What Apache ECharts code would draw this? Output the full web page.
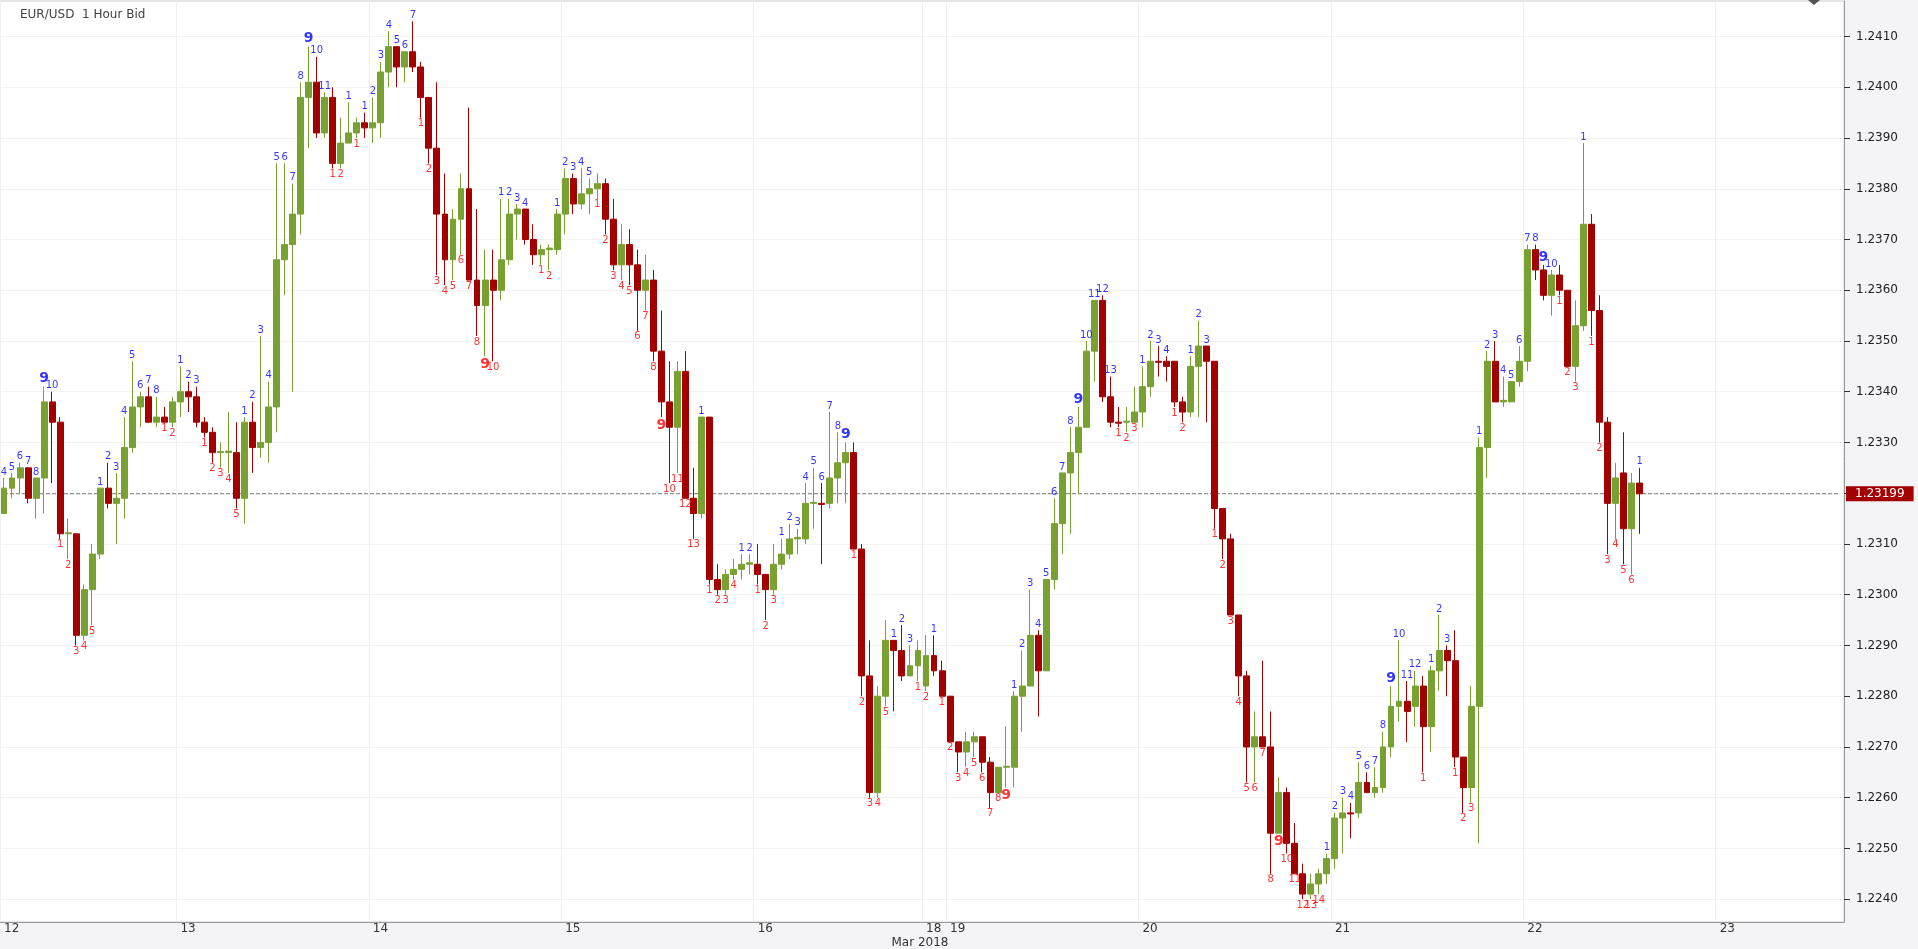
<!DOCTYPE html>
<html><head><meta charset="utf-8">
<script src="https://cdn.jsdelivr.net/npm/echarts@6/dist/echarts.min.js"></script>
<style>html,body{margin:0;padding:0;background:#fff}#c{width:1918px;height:949px}</style>
</head><body><div id="c"></div>
<script>
const opens=[1.2316,1.2321,1.2323,1.2325,1.2319,1.2323,1.2338,1.2334,1.2312,1.2312,1.2292,1.2301,1.2308,1.2321,1.2318,1.2319,1.2329,1.2337,1.2339,1.2334,1.2335,1.2334,1.2338,1.2340,1.2339,1.2334,1.2332,1.2328,1.2328,1.2328,1.2319,1.2334,1.2329,1.2330,1.2337,1.2366,1.2369,1.2375,1.2398,1.2401,1.2391,1.2398,1.2385,1.2389,1.2391,1.2393,1.2392,1.2393,1.2403,1.2408,1.2404,1.2407,1.2404,1.2398,1.2388,1.2375,1.2366,1.2374,1.2380,1.2362,1.2357,1.2362,1.2360,1.2366,1.2375,1.2376,1.2370,1.2367,1.2368,1.2368,1.2375,1.2382,1.2377,1.2379,1.2380,1.2381,1.2374,1.2365,1.2369,1.2365,1.2360,1.2362,1.2348,1.2338,1.2333,1.2344,1.2319,1.2316,1.2335,1.2303,1.2301,1.2304,1.2305,1.2306,1.2306,1.2304,1.2301,1.2306,1.2308,1.2311,1.2311,1.2318,1.2318,1.2318,1.2323,1.2326,1.2328,1.2309,1.2284,1.2261,1.2280,1.2291,1.2289,1.2284,1.2286,1.2282,1.2288,1.2285,1.2280,1.2271,1.2269,1.2271,1.2272,1.2267,1.2261,1.2266,1.2266,1.2280,1.2282,1.2292,1.2285,1.2303,1.2314,1.2324,1.2328,1.2333,1.2348,1.2358,1.2339,1.2334,1.2334,1.2334,1.2336,1.2341,1.2346,1.2346,1.2346,1.2338,1.2336,1.2345,1.2349,1.2346,1.2317,1.2311,1.2296,1.2284,1.2270,1.2272,1.2270,1.2253,1.2261,1.2251,1.2245,1.2241,1.2243,1.2245,1.2248,1.2256,1.2257,1.2257,1.2263,1.2261,1.2262,1.2270,1.2278,1.2279,1.2278,1.2282,1.2274,1.2285,1.2289,1.2287,1.2268,1.2262,1.2278,1.2329,1.2346,1.2338,1.2338,1.2342,1.2346,1.2368,1.2364,1.2359,1.2363,1.2360,1.2345,1.2353,1.2373,1.2356,1.2334,1.2318,1.2324,1.2313,1.2322];
const closes=[1.2321,1.2323,1.2325,1.2319,1.2323,1.2338,1.2334,1.2312,1.23122,1.2292,1.2301,1.2308,1.2321,1.2318,1.2319,1.2329,1.2337,1.2339,1.2334,1.2335,1.2334,1.2338,1.2340,1.2339,1.2334,1.2332,1.2328,1.23282,1.23283,1.2319,1.2334,1.2329,1.2330,1.2337,1.2366,1.2369,1.2375,1.2398,1.2401,1.2391,1.2398,1.2385,1.2389,1.2391,1.2393,1.2392,1.2393,1.2403,1.2408,1.2404,1.2407,1.2404,1.2398,1.2388,1.2375,1.2366,1.2374,1.2380,1.2362,1.2357,1.2362,1.2360,1.2366,1.2375,1.2376,1.2370,1.2367,1.2368,1.23683,1.2375,1.2382,1.2377,1.2379,1.2380,1.2381,1.2374,1.2365,1.2369,1.2365,1.2360,1.2362,1.2348,1.2338,1.2333,1.2344,1.2319,1.2316,1.2335,1.2303,1.2301,1.2304,1.2305,1.2306,1.23063,1.2304,1.2301,1.2306,1.2308,1.2311,1.23113,1.2318,1.23182,1.23178,1.2323,1.2326,1.2328,1.2309,1.2284,1.2261,1.2280,1.2291,1.2289,1.2284,1.2286,1.2289,1.2288,1.2285,1.2280,1.2271,1.2269,1.2271,1.2272,1.2267,1.2261,1.2266,1.22662,1.2280,1.2282,1.2292,1.2285,1.2303,1.2314,1.2324,1.2328,1.2333,1.2348,1.2358,1.2339,1.2334,1.23338,1.23342,1.2336,1.2341,1.2346,1.23458,1.2345,1.2338,1.2336,1.2345,1.2349,1.2346,1.2317,1.2311,1.2296,1.2284,1.2270,1.2272,1.2270,1.2253,1.2261,1.2251,1.2245,1.2241,1.2243,1.2245,1.2248,1.2256,1.2257,1.22568,1.2263,1.2261,1.2262,1.2270,1.2278,1.2279,1.2277,1.2282,1.2274,1.2285,1.2289,1.2287,1.2268,1.2262,1.2278,1.2329,1.2346,1.2338,1.23383,1.2342,1.2346,1.2368,1.2364,1.2359,1.2363,1.2360,1.2345,1.2353,1.2373,1.2356,1.2334,1.2318,1.2323,1.2313,1.2322,1.23199];
const lows=[1.2316,1.2319,1.2320,1.2318,1.2315,1.2316,1.2322,1.2311,1.2307,1.2290,1.2291,1.2294,1.2307,1.2317,1.2310,1.2315,1.2328,1.2333,1.2334,1.2333,1.2334,1.2333,1.2335,1.2336,1.2333,1.2331,1.2326,1.2325,1.2324,1.2317,1.2314,1.2324,1.2327,1.2326,1.2332,1.2359,1.2340,1.2371,1.2388,1.2390,1.2390,1.2384,1.2384,1.2389,1.2390,1.2390,1.2389,1.2390,1.2400,1.2400,1.2401,1.2403,1.2394,1.2385,1.2363,1.2361,1.2362,1.2367,1.2362,1.2351,1.2347,1.2346,1.2358,1.2365,1.2370,1.2369,1.2365,1.2365,1.2364,1.2367,1.2371,1.2375,1.2376,1.2375,1.2378,1.2371,1.2364,1.2362,1.2361,1.2352,1.2356,1.2346,1.2335,1.2322,1.2324,1.2319,1.2311,1.2315,1.2302,1.2300,1.2300,1.2303,1.2303,1.2304,1.2302,1.2295,1.2300,1.2305,1.2307,1.2308,1.2310,1.2313,1.2306,1.2317,1.2318,1.2318,1.2309,1.2280,1.2260,1.2260,1.2278,1.2277,1.2283,1.2284,1.2283,1.2281,1.2284,1.2280,1.2271,1.2265,1.2266,1.2268,1.2265,1.2258,1.2261,1.2262,1.2262,1.2273,1.2282,1.2276,1.2285,1.2301,1.2308,1.2312,1.2320,1.2333,1.2342,1.2338,1.2333,1.2333,1.2332,1.2334,1.2333,1.2339,1.2343,1.2342,1.2337,1.2334,1.2335,1.2335,1.2334,1.2313,1.2307,1.2296,1.2280,1.2263,1.2263,1.2270,1.2245,1.2253,1.2249,1.2245,1.2240,1.2240,1.2241,1.2243,1.2246,1.2249,1.2252,1.2256,1.2261,1.2260,1.2261,1.2268,1.2275,1.2271,1.2274,1.2265,1.2269,1.2281,1.2280,1.2266,1.2257,1.2259,1.2251,1.2323,1.2338,1.2337,1.2338,1.2341,1.2344,1.2362,1.2358,1.2355,1.2359,1.2345,1.2342,1.2352,1.2351,1.2330,1.2308,1.2311,1.2306,1.2304,1.2312];
const highs=[1.2323,1.2324,1.2326,1.2325,1.2323,1.2341,1.2340,1.2335,1.2315,1.2312,1.2302,1.2310,1.2321,1.2326,1.2324,1.2335,1.2346,1.2340,1.2341,1.2339,1.2337,1.2339,1.2345,1.2342,1.2341,1.2335,1.2333,1.2330,1.2336,1.2334,1.2335,1.2338,1.2351,1.2342,1.2385,1.2385,1.2381,1.2401,1.2408,1.2406,1.2399,1.2400,1.2394,1.2397,1.2394,1.2395,1.2398,1.2405,1.2411,1.2408,1.2407,1.2413,1.2405,1.2398,1.2401,1.2383,1.2376,1.2383,1.2396,1.2376,1.2368,1.2368,1.2378,1.2378,1.2377,1.2376,1.2373,1.2369,1.2369,1.2376,1.2384,1.2383,1.2384,1.2382,1.2383,1.2382,1.2378,1.2373,1.2372,1.2368,1.2367,1.2364,1.2356,1.2346,1.2346,1.2348,1.2325,1.2335,1.2335,1.2306,1.2305,1.2307,1.2308,1.2308,1.2310,1.2304,1.2310,1.2311,1.2314,1.2313,1.2322,1.2325,1.2322,1.2336,1.2332,1.2330,1.2330,1.2310,1.2291,1.2282,1.2295,1.2291,1.2294,1.2290,1.2291,1.2292,1.2292,1.2287,1.2280,1.2271,1.2273,1.2273,1.2272,1.2268,1.2266,1.2274,1.2281,1.2289,1.2301,1.2293,1.2303,1.2319,1.2324,1.2333,1.2337,1.2350,1.2358,1.2359,1.2343,1.2337,1.2337,1.2341,1.2345,1.2350,1.2349,1.2347,1.2346,1.2339,1.2347,1.2354,1.2349,1.2346,1.2317,1.2312,1.2296,1.2285,1.2277,1.2287,1.2277,1.2264,1.2262,1.2255,1.2247,1.2245,1.2246,1.2249,1.2257,1.2260,1.2259,1.2267,1.2265,1.2266,1.2273,1.2282,1.2291,1.2283,1.2285,1.2284,1.2286,1.2296,1.2290,1.2293,1.2268,1.2282,1.2331,1.2348,1.2350,1.2343,1.2342,1.2349,1.2369,1.2369,1.2365,1.2364,1.2365,1.2360,1.2358,1.2389,1.2375,1.2359,1.2335,1.2326,1.2332,1.2324,1.2325];
const upCounts=[[0,'4'],[1,'5'],[2,'6'],[3,'7'],[4,'8'],[5,'9'],[6,'10'],[12,'1'],[13,'2'],[14,'3'],[15,'4'],[16,'5'],[17,'6'],[18,'7'],[19,'8'],[22,'1'],[23,'2'],[24,'3'],[30,'1'],[31,'2'],[32,'3'],[33,'4'],[34,'5'],[35,'6'],[36,'7'],[37,'8'],[38,'9'],[39,'10'],[40,'11'],[43,'1'],[45,'1'],[46,'2'],[47,'3'],[48,'4'],[49,'5'],[50,'6'],[51,'7'],[62,'1'],[63,'2'],[64,'3'],[65,'4'],[69,'1'],[70,'2'],[71,'3'],[72,'4'],[73,'5'],[87,'1'],[92,'1'],[93,'2'],[97,'1'],[98,'2'],[99,'3'],[100,'4'],[101,'5'],[102,'6'],[103,'7'],[104,'8'],[105,'9'],[111,'1'],[112,'2'],[113,'3'],[116,'1'],[126,'1'],[127,'2'],[128,'3'],[129,'4'],[130,'5'],[131,'6'],[132,'7'],[133,'8'],[134,'9'],[135,'10'],[136,'11'],[137,'12'],[138,'13'],[142,'1'],[143,'2'],[144,'3'],[145,'4'],[148,'1'],[149,'2'],[150,'3'],[165,'1'],[166,'2'],[167,'3'],[168,'4'],[169,'5'],[170,'6'],[171,'7'],[172,'8'],[173,'9'],[174,'10'],[175,'11'],[176,'12'],[178,'1'],[179,'2'],[180,'3'],[184,'1'],[185,'2'],[186,'3'],[187,'4'],[188,'5'],[189,'6'],[190,'7'],[191,'8'],[192,'9'],[193,'10'],[197,'1'],[204,'1']];
const downCounts=[[7,'1'],[8,'2'],[9,'3'],[10,'4'],[11,'5'],[20,'1'],[21,'2'],[25,'1'],[26,'2'],[27,'3'],[28,'4'],[29,'5'],[41,'1'],[42,'2'],[44,'1'],[52,'1'],[53,'2'],[54,'3'],[55,'4'],[56,'5'],[57,'6'],[58,'7'],[59,'8'],[60,'9'],[61,'10'],[67,'1'],[68,'2'],[74,'1'],[75,'2'],[76,'3'],[77,'4'],[78,'5'],[79,'6'],[80,'7'],[81,'8'],[82,'9'],[83,'10'],[84,'11'],[85,'12'],[86,'13'],[88,'1'],[89,'2'],[90,'3'],[91,'4'],[94,'1'],[95,'2'],[96,'3'],[106,'1'],[107,'2'],[108,'3'],[109,'4'],[110,'5'],[114,'1'],[115,'2'],[117,'1'],[118,'2'],[119,'3'],[120,'4'],[121,'5'],[122,'6'],[123,'7'],[124,'8'],[125,'9'],[139,'1'],[140,'2'],[141,'3'],[146,'1'],[147,'2'],[151,'1'],[152,'2'],[153,'3'],[154,'4'],[155,'5'],[156,'6'],[157,'7'],[158,'8'],[159,'9'],[160,'10'],[161,'11'],[162,'12'],[163,'13'],[164,'14'],[177,'1'],[181,'1'],[182,'2'],[183,'3'],[194,'1'],[195,'2'],[196,'3'],[198,'1'],[199,'2'],[200,'3'],[201,'4'],[202,'5'],[203,'6']];
const dayStarts={0:'12',22:'13',46:'14',70:'15',94:'16',115:'18',118:'19',142:'20',166:'21',190:'22',214:'23'};
const yTicks=[1.2240,1.2250,1.2260,1.2270,1.2280,1.2290,1.2300,1.2310,1.2320,1.2330,1.2340,1.2350,1.2360,1.2370,1.2380,1.2390,1.2400,1.2410];
const lastPrice=1.23199;
const SLOTS=230;

const cats=[];for(let i=0;i<SLOTS;i++)cats.push(String(i));
const candles=opens.map((o,i)=>[o,closes[i],lows[i],highs[i]]);
const isDay=(i)=>dayStarts[i]!==undefined;
const mk=(arr,src)=>arr.map(([i,t])=>({value:[i,src[i]],label:{formatter:t,fontSize:t==='9'?14:10,fontWeight:t==='9'?'bold':'normal'}}));
const priceLine=cats.map(()=>lastPrice);
const chart=echarts.init(document.getElementById('c'));
chart.setOption({
  animation:false,backgroundColor:'#fff',
  graphic:[
    {type:'rect',z:-10,shape:{x:1844,y:0,width:74,height:949},style:{fill:'#f4f4f6'}},
    {type:'rect',z:-10,shape:{x:0,y:922,width:1918,height:27},style:{fill:'#f4f4f6'}},
    {type:'text',left:20,top:9,style:{text:'EUR/USD  1 Hour Bid',font:'12px "DejaVu Sans"',fill:'#444'}},
    {type:'text',x:920,y:937,style:{text:'Mar 2018',font:'12px "DejaVu Sans"',fill:'#333',align:'center'}},
    {type:'polygon',shape:{points:[[1808,0],[1820,0],[1814,5]]},style:{fill:'#555'}}
  ],
  grid:{left:0,right:74,top:1,bottom:27,show:true,borderColor:'#ccc',borderWidth:1},
  xAxis:{type:'category',data:cats,boundaryGap:true,
    axisLine:{lineStyle:{color:'#999'}},
    axisTick:{interval:(i)=>isDay(i),length:7,inside:false,lineStyle:{color:'#333'}},
    axisLabel:{interval:(i)=>isDay(i),formatter:(v)=>dayStarts[+v]||'',align:'left',margin:1,color:'#333',fontSize:12,fontFamily:'DejaVu Sans'},
    splitLine:{show:true,interval:(i)=>isDay(i),lineStyle:{color:'#f0f0f0'}}},
  yAxis:{type:'value',position:'right',min:1.22355,max:1.2417,scale:true,
    axisLine:{show:true,lineStyle:{color:'#999'}},
    axisTick:{show:true,customValues:yTicks,length:6,lineStyle:{color:'#333'}},
    axisLabel:{customValues:yTicks,formatter:(v)=>v.toFixed(4),color:'#222',fontSize:12,fontFamily:'DejaVu Sans',margin:12},
    splitLine:{show:true,lineStyle:{color:'#f2f2f2'}}},
  series:[
    {type:'line',data:priceLine,symbol:'none',silent:true,z:1,
      lineStyle:{color:'#777',type:'dashed',width:1},
      endLabel:{show:true,formatter:'1.23199',color:'#fff',backgroundColor:'#a30000',padding:[2,9,1,9],fontSize:12,fontFamily:'DejaVu Sans',distance:6}},
    {type:'candlestick',data:candles,barWidth:'80%',z:3,
      itemStyle:{color:'#78a132',color0:'#a30000',borderColor:'#78a132',borderColor0:'#a30000',borderWidth:1}},
    {type:'scatter',symbolSize:0,z:4,data:mk(upCounts,highs),label:{show:true,position:'top',distance:1,color:'#0000ff',fontFamily:'DejaVu Sans'}},
    {type:'scatter',symbolSize:0,z:4,data:mk(downCounts,lows),label:{show:true,position:'bottom',distance:1,color:'#ff0000',fontFamily:'DejaVu Sans'}}
  ]
});
</script></body></html>
